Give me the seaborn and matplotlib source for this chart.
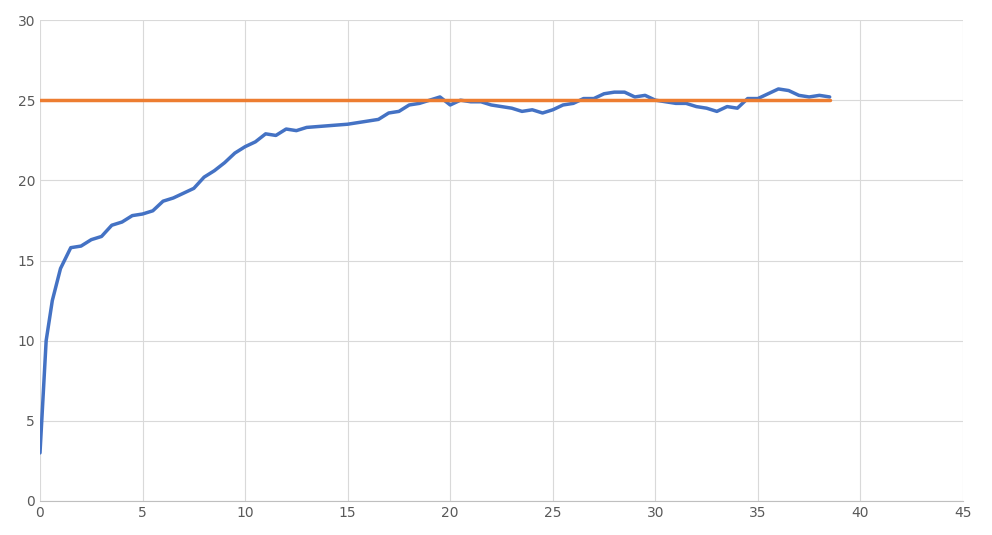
import seaborn as sns
import matplotlib.pyplot as plt
import pandas as pd

# values
x_vals = [0, 0.3, 0.6, 1, 1.5, 2, 2.5, 3, 3.5, 4, 4.5, 5, 5.5, 6, 6.5, 7, 7.5, 8, 8.5, 9,
          9.5, 10, 10.5, 11, 11.5, 12, 12.5, 13, 14, 15, 16, 16.5, 17, 17.5, 18, 18.5, 19,
          19.5, 20, 20.5, 21, 21.5, 22, 23, 23.5, 24, 24.5, 25, 25.5, 26, 26.5, 27, 27.5,
          28, 28.5, 29, 29.5, 30, 31, 31.5, 32, 32.5, 33, 33.5, 34, 34.5, 35, 35.5, 36,
          36.5, 37, 37.5, 38, 38.5]
y_vals = [3, 10, 12.5, 14.5, 15.8, 15.9, 16.3, 16.5, 17.2, 17.4, 17.8, 17.9, 18.1, 18.7,
          18.9, 19.2, 19.5, 20.2, 20.6, 21.1, 21.7, 22.1, 22.4, 22.9, 22.8, 23.2, 23.1,
          23.3, 23.4, 23.5, 23.7, 23.8, 24.2, 24.3, 24.7, 24.8, 25.0, 25.2, 24.7, 25.0,
          24.9, 24.9, 24.7, 24.5, 24.3, 24.4, 24.2, 24.4, 24.7, 24.8, 25.1, 25.1, 25.4,
          25.5, 25.5, 25.2, 25.3, 25.0, 24.8, 24.8, 24.6, 24.5, 24.3, 24.6, 24.5, 25.1,
          25.1, 25.4, 25.7, 25.6, 25.3, 25.2, 25.3, 25.2]
target_x = [0, 38.5]
target_y = [25, 25]

sns.set_style("white")
fig = plt.figure(figsize=(9.92, 5.35), dpi=100)
ax = fig.add_axes([40 / 992, 34 / 535, 923 / 992, 481 / 535])

df = pd.DataFrame({'x': x_vals, 'y': y_vals})
sns.lineplot(data=df, x='x', y='y', ax=ax, color='#4472C4', linewidth=2.5)
sns.lineplot(x=target_x, y=target_y, ax=ax, color='#ED7D31', linewidth=2.5)

ax.set_xlim(0, 45)
ax.set_ylim(0, 30)
ax.set_xticks(range(0, 46, 5))
ax.set_yticks(range(0, 31, 5))
ax.grid(True, color='#D9D9D9', linewidth=0.8)
ax.set_axisbelow(True)
ax.set_xlabel('')
ax.set_ylabel('')
for side in ['top', 'right', 'left']:
    ax.spines[side].set_visible(False)
ax.spines['bottom'].set_color('#BFBFBF')
ax.tick_params(colors='#595959', labelsize=10, length=0)

plt.savefig('out.png', dpi=100)
